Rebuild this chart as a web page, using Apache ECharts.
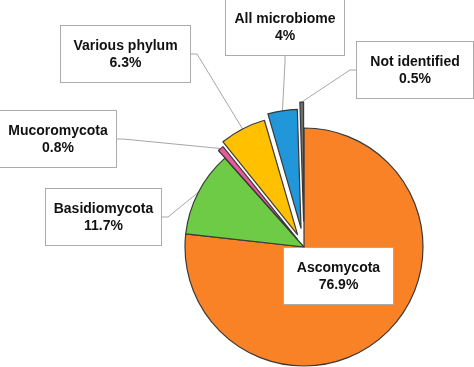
<!DOCTYPE html>
<html><head><meta charset="utf-8">
<script src="https://cdn.jsdelivr.net/npm/echarts@6/dist/echarts.min.js"></script>
<style>html,body{margin:0;padding:0;background:#fff}#c{width:474px;height:367px}</style>
</head><body><div id="c"></div>
<script>
const categories = ['Ascomycota', 'Basidiomycota', 'Mucoromycota', 'Various phylum', 'All microbiome', 'Not identified'];
const values = [76.9, 11.7, 0.8, 6.3, 4, 0.5];

// styling
const colors = ['#F98126', '#6DCB45', '#E9589C', '#FFC000', '#2196D8', '#6E6E6E'];
const explode = [0, 0, 10, 14, 19, 26];
// label box: center x, top y, box width
const boxes = [[338.5, 248, 109], [103.5, 189, 115], [58, 111, 116], [125.5, 26, 129], [285, -1, 118], [415, 42, 116]];
const CX = 304, CY = 247, R = 119;

const chart = echarts.init(document.getElementById('c'), null, {renderer: 'canvas'});

const total = values.reduce((a, b) => a + b, 0);
let cum = 0;
const series = categories.map((_, k) => {
  const mid = (cum + values[k] / 2) / total * 2 * Math.PI; // clockwise from 12 o'clock
  cum += values[k];
  const cx = CX + explode[k] * Math.sin(mid);
  const cy = CY - explode[k] * Math.cos(mid);
  return {
    type: 'pie',
    radius: R,
    center: [cx, cy],
    startAngle: 90,
    clockwise: true,
    avoidLabelOverlap: false,
    animation: false,
    silent: true,
    z: 2 + k,
    label: {
      show: false,
      formatter: '{b}\n{c}%',
      fontFamily: 'Liberation Sans, Arial, sans-serif',
      fontWeight: 'bold',
      fontSize: 14,
      lineHeight: 17,
      color: '#111',
      backgroundColor: '#fff',
      borderColor: '#ababab',
      borderWidth: 1,
      padding: [12, 0, 10, 0],
      overflow: 'none'
    },
    labelLine: {show: false, length: 8, length2: 6, lineStyle: {color: '#a6a6a6', width: 1}},
    labelLayout: function (p) {
      const b = boxes[p.dataIndex];
      return {x: b[0], y: b[1], align: 'center', verticalAlign: 'top', width: b[2]};
    },
    data: categories.map((name, i) => i === k ? {
      name: name, value: values[i],
      itemStyle: {color: colors[i], borderColor: '#3a3a3a', borderWidth: 1.2},
      label: {show: true},
      labelLine: {show: i !== 0}
    } : {
      name: name, value: values[i],
      itemStyle: {color: 'rgba(0,0,0,0)', borderWidth: 0},
      label: {show: false}, labelLine: {show: false}
    })
  };
});

chart.setOption({animation: false, series: series});
</script></body></html>
